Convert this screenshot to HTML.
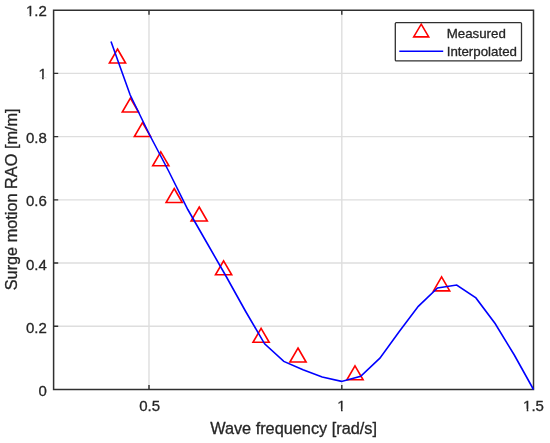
<!DOCTYPE html>
<html><head><meta charset="utf-8"><title>Surge motion RAO</title>
<style>
html,body{margin:0;padding:0;background:#fff;width:550px;height:443px;overflow:hidden}
svg{display:block}
text{font-family:"Liberation Sans",Arial,Helvetica,sans-serif;fill:#262626;stroke:#262626;stroke-width:0.3px}
</style></head><body>
<svg width="550" height="443" viewBox="0 0 550 443">
<rect x="0" y="0" width="550" height="443" fill="#fff"/>
<path d="M149.00 10.20V389.50M341.80 10.20V389.50M53.60 326.28H533.50M53.60 263.07H533.50M53.60 199.85H533.50M53.60 136.63H533.50M53.60 73.42H533.50" stroke="#dedede" stroke-width="1.4" fill="none"/>
<path d="M53.60 10.20H533.50V389.50H53.60Z" stroke="#303030" stroke-width="1.5" fill="none"/>
<path d="M149.00 389.50v-4.6M149.00 10.20v4.6M341.80 389.50v-4.6M341.80 10.20v4.6M53.60 326.28h4.6M533.50 326.28h-4.6M53.60 263.07h4.6M533.50 263.07h-4.6M53.60 199.85h4.6M533.50 199.85h-4.6M53.60 136.63h4.6M533.50 136.63h-4.6M53.60 73.42h4.6M533.50 73.42h-4.6" stroke="#303030" stroke-width="1.4" fill="none"/>
<path d="M117.50 49.00L125.60 63.00L109.40 63.00ZM130.40 98.00L138.50 112.00L122.30 112.00ZM142.50 122.50L150.60 136.50L134.40 136.50ZM160.80 151.80L168.90 165.80L152.70 165.80ZM174.20 188.50L182.30 202.50L166.10 202.50ZM199.20 207.00L207.30 221.00L191.10 221.00ZM223.60 260.80L231.70 274.80L215.50 274.80ZM261.10 328.30L269.20 342.30L253.00 342.30ZM298.00 348.00L306.10 362.00L289.90 362.00ZM355.00 365.80L363.10 379.80L346.90 379.80ZM441.60 276.90L449.70 290.90L433.50 290.90Z" stroke="#ff0000" stroke-width="1.6" fill="none" stroke-linejoin="miter"/>
<polyline points="111.0,41.6 130.2,95.0 149.4,134.5 168.6,171.0 187.8,209.5 207.0,243.0 226.2,276.5 245.4,311.0 264.6,343.8 283.8,361.4 303.0,369.8 322.2,377.0 341.5,381.4 360.7,376.3 379.9,358.1 399.1,331.8 418.3,306.3 437.5,287.9 456.7,285.0 475.9,297.9 495.1,323.5 514.3,355.0 533.5,389.5" stroke="#0000ff" stroke-width="1.6" fill="none" stroke-linejoin="miter"/>
<text x="149.58" y="410.8" font-size="15" text-anchor="middle">0.5</text>
<text x="341.54" y="410.8" font-size="15" text-anchor="middle">1</text>
<text x="533.50" y="410.8" font-size="15" text-anchor="middle">1.5</text>
<text x="46.8" y="396.20" font-size="15" text-anchor="end">0</text>
<text x="46.8" y="333.20" font-size="15" text-anchor="end">0.2</text>
<text x="46.8" y="270.00" font-size="15" text-anchor="end">0.4</text>
<text x="46.8" y="205.70" font-size="15" text-anchor="end">0.6</text>
<text x="46.8" y="142.50" font-size="15" text-anchor="end">0.8</text>
<text x="46.8" y="79.40" font-size="15" text-anchor="end">1</text>
<text x="46.8" y="16.20" font-size="15" text-anchor="end">1.2</text>
<rect x="337.71" y="408.78" width="3.28" height="4.12" fill="#fff"/><rect x="342.62" y="408.78" width="3.16" height="4.12" fill="#fff"/>
<rect x="523.42" y="408.78" width="3.28" height="4.12" fill="#fff"/><rect x="528.32" y="408.78" width="3.16" height="4.12" fill="#fff"/>
<rect x="38.80" y="77.38" width="3.28" height="4.12" fill="#fff"/><rect x="43.71" y="77.38" width="3.16" height="4.12" fill="#fff"/>
<rect x="26.29" y="14.18" width="3.28" height="4.12" fill="#fff"/><rect x="31.20" y="14.18" width="3.16" height="4.12" fill="#fff"/>
<text x="293.55" y="433.6" font-size="16.3" text-anchor="middle">Wave frequency [rad/s]</text>
<text transform="translate(17.1 199.35) rotate(-90)" x="0" y="0" font-size="16.3" text-anchor="middle">Surge motion RAO [m/m]</text>
<rect x="395.3" y="22.6" width="126.2" height="38.3" fill="#fff"/>
<path d="M421.20 24.20L428.70 36.90L413.70 36.90Z" stroke="#ff0000" stroke-width="1.6" fill="none"/>
<rect x="395.3" y="22.6" width="126.2" height="38.3" rx="1" fill="none" stroke="#303030" stroke-width="1.3"/>
<path d="M399.3 51.3H443.2" stroke="#0000ff" stroke-width="1.6"/>
<text x="446.7" y="38.4" font-size="13.3">Measured</text>
<text x="446.7" y="55.6" font-size="13.3">Interpolated</text>
</svg>
</body></html>
